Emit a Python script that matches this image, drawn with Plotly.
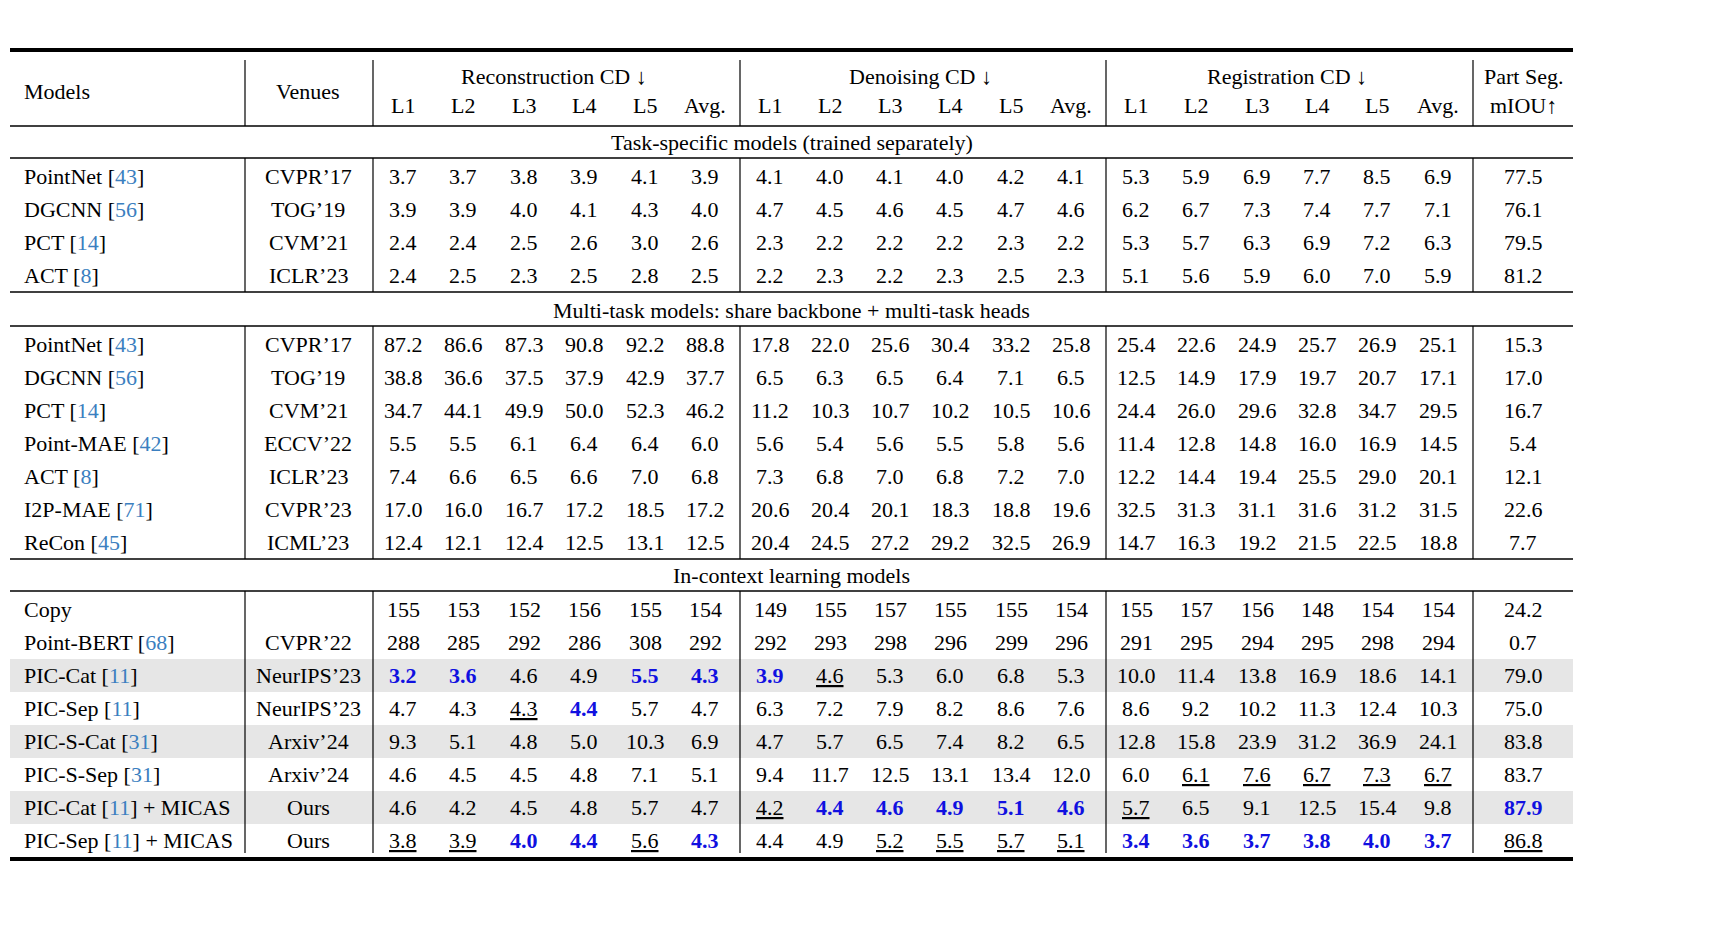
import plotly.graph_objects as go

# ---------------- data ----------------
groups = ["Reconstruction CD ↓", "Denoising CD ↓", "Registration CD ↓"]
levels = ["L1", "L2", "L3", "L4", "L5", "Avg."]
sections = ["Task-specific models (trained separately)",
            "Multi-task models: share backbone + multi-task heads",
            "In-context learning models"]

task_models = [("PointNet", "43"), ("DGCNN", "56"), ("PCT", "14"), ("ACT", "8")]
task_venues = ["CVPR’17", "TOG’19", "CVM’21", "ICLR’23"]
task_vals = [
    ["3.7","3.7","3.8","3.9","4.1","3.9","4.1","4.0","4.1","4.0","4.2","4.1","5.3","5.9","6.9","7.7","8.5","6.9","77.5"],
    ["3.9","3.9","4.0","4.1","4.3","4.0","4.7","4.5","4.6","4.5","4.7","4.6","6.2","6.7","7.3","7.4","7.7","7.1","76.1"],
    ["2.4","2.4","2.5","2.6","3.0","2.6","2.3","2.2","2.2","2.2","2.3","2.2","5.3","5.7","6.3","6.9","7.2","6.3","79.5"],
    ["2.4","2.5","2.3","2.5","2.8","2.5","2.2","2.3","2.2","2.3","2.5","2.3","5.1","5.6","5.9","6.0","7.0","5.9","81.2"],
]

multi_models = [("PointNet", "43"), ("DGCNN", "56"), ("PCT", "14"), ("Point-MAE", "42"),
                ("ACT", "8"), ("I2P-MAE", "71"), ("ReCon", "45")]
multi_venues = ["CVPR’17", "TOG’19", "CVM’21", "ECCV’22", "ICLR’23", "CVPR’23", "ICML’23"]
multi_vals = [
    ["87.2","86.6","87.3","90.8","92.2","88.8","17.8","22.0","25.6","30.4","33.2","25.8","25.4","22.6","24.9","25.7","26.9","25.1","15.3"],
    ["38.8","36.6","37.5","37.9","42.9","37.7","6.5","6.3","6.5","6.4","7.1","6.5","12.5","14.9","17.9","19.7","20.7","17.1","17.0"],
    ["34.7","44.1","49.9","50.0","52.3","46.2","11.2","10.3","10.7","10.2","10.5","10.6","24.4","26.0","29.6","32.8","34.7","29.5","16.7"],
    ["5.5","5.5","6.1","6.4","6.4","6.0","5.6","5.4","5.6","5.5","5.8","5.6","11.4","12.8","14.8","16.0","16.9","14.5","5.4"],
    ["7.4","6.6","6.5","6.6","7.0","6.8","7.3","6.8","7.0","6.8","7.2","7.0","12.2","14.4","19.4","25.5","29.0","20.1","12.1"],
    ["17.0","16.0","16.7","17.2","18.5","17.2","20.6","20.4","20.1","18.3","18.8","19.6","32.5","31.3","31.1","31.6","31.2","31.5","22.6"],
    ["12.4","12.1","12.4","12.5","13.1","12.5","20.4","24.5","27.2","29.2","32.5","26.9","14.7","16.3","19.2","21.5","22.5","18.8","7.7"],
]

icl_models = [("Copy", None), ("Point-BERT", "68"), ("PIC-Cat", "11"), ("PIC-Sep", "11"),
              ("PIC-S-Cat", "31"), ("PIC-S-Sep", "31"), ("PIC-Cat", "11", " + MICAS"),
              ("PIC-Sep", "11", " + MICAS")]
icl_venues = ["", "CVPR’22", "NeurIPS’23", "NeurIPS’23", "Arxiv’24", "Arxiv’24", "Ours", "Ours"]
icl_vals = [
    ["155","153","152","156","155","154","149","155","157","155","155","154","155","157","156","148","154","154","24.2"],
    ["288","285","292","286","308","292","292","293","298","296","299","296","291","295","294","295","298","294","0.7"],
    ["3.2","3.6","4.6","4.9","5.5","4.3","3.9","4.6","5.3","6.0","6.8","5.3","10.0","11.4","13.8","16.9","18.6","14.1","79.0"],
    ["4.7","4.3","4.3","4.4","5.7","4.7","6.3","7.2","7.9","8.2","8.6","7.6","8.6","9.2","10.2","11.3","12.4","10.3","75.0"],
    ["9.3","5.1","4.8","5.0","10.3","6.9","4.7","5.7","6.5","7.4","8.2","6.5","12.8","15.8","23.9","31.2","36.9","24.1","83.8"],
    ["4.6","4.5","4.5","4.8","7.1","5.1","9.4","11.7","12.5","13.1","13.4","12.0","6.0","6.1","7.6","6.7","7.3","6.7","83.7"],
    ["4.6","4.2","4.5","4.8","5.7","4.7","4.2","4.4","4.6","4.9","5.1","4.6","5.7","6.5","9.1","12.5","15.4","9.8","87.9"],
    ["3.8","3.9","4.0","4.4","5.6","4.3","4.4","4.9","5.2","5.5","5.7","5.1","3.4","3.6","3.7","3.8","4.0","3.7","86.8"],
]
# (icl row, column) of best (bold blue) and second best (underlined)
best = [(2,0),(2,1),(2,4),(2,5),(2,6),(3,3),(6,7),(6,8),(6,9),(6,10),(6,11),(6,18),
        (7,2),(7,3),(7,5),(7,12),(7,13),(7,14),(7,15),(7,16),(7,17)]
second = [(2,7),(3,2),(5,13),(5,14),(5,15),(5,16),(5,17),(6,6),(6,12),
          (7,0),(7,1),(7,4),(7,8),(7,9),(7,10),(7,11),(7,18)]
shaded_icl_rows = [2, 4, 6]

# ---------------- layout ----------------
FONT = "Liberation Serif, Times New Roman, serif"
FS = 22
CITE = "#3b7fc0"
col_x = [395, 455, 516, 576, 637, 697, 762, 822, 882, 942, 1003, 1063,
         1128, 1188, 1249, 1309, 1369, 1430, 1515]
vlines = [237, 365, 732, 1098, 1465]
X0, X1 = 2, 1565
ROWH = 33

fig = go.Figure()
ann = []
shapes = []

def txt(x, y, s, anchor="center", color="black"):
    ann.append(dict(x=x, y=y, text=s, showarrow=False, xanchor=anchor, yanchor="middle",
                    font=dict(family=FONT, size=FS, color=color)))

def hline(y, w):
    shapes.append(dict(type="line", x0=X0, x1=X1, y0=y, y1=y, line=dict(color="black", width=w)))

def vl(y0, y1):
    for vx in vlines:
        shapes.append(dict(type="line", x0=vx, x1=vx, y0=y0, y1=y1, line=dict(color="black", width=1.2)))

def model_label(m):
    s = m[0]
    if m[1] is not None:
        s += f" [<span style='color:{CITE}'>{m[1]}</span>]"
    if len(m) > 2:
        s += m[2]
    return s

# header
hline(42, 4)
txt(14, 83, "Models", "left")
txt(300, 83, "Venues")
for gi, g in enumerate(groups):
    c = col_x[gi*6:(gi+1)*6]
    txt((c[0]+c[-1])/2, 68, g)
    for li, l in enumerate(levels):
        txt(c[li], 97, l)
txt(col_x[18], 68, "Part Seg.")
txt(col_x[18], 97, "mIOU↑")
vl(52, 118)
hline(118, 1.5)

blocks = [(task_models, task_venues, task_vals, 134),
          (multi_models, multi_venues, multi_vals, 302),
          (icl_models, icl_venues, icl_vals, 567)]
for bi, (models, venues, vals, ysec) in enumerate(blocks):
    txt((X0+X1)/2, ysec, sections[bi])
    top = ysec + 16
    hline(top, 1.5)
    bottom = top + ROWH*len(models) + 2
    for ri, (m, v, row) in enumerate(zip(models, venues, vals)):
        y = top + ROWH*(ri+0.5) + 2
        if bi == 2 and ri in shaded_icl_rows:
            shapes.append(dict(type="rect", x0=X0, x1=X1, y0=y-ROWH/2, y1=y+ROWH/2,
                               fillcolor="#e6e6e6", line=dict(width=0), layer="below"))
        txt(14, y, model_label(m), "left")
        txt(300, y, v)
        for ci, s in enumerate(row):
            if bi == 2 and (ri, ci) in best:
                txt(col_x[ci], y, f"<b>{s}</b>", color="#1010e0")
            elif bi == 2 and (ri, ci) in second:
                txt(col_x[ci], y, f"<u>{s}</u>")
            else:
                txt(col_x[ci], y, s)
    vl(top, bottom - (0 if bi < 2 else 4))
    if bi < 2:
        hline(bottom, 1.5)
    else:
        hline(bottom + 2, 4)

fig.update_layout(
    width=1717, height=938, margin=dict(l=0, r=0, t=0, b=0),
    plot_bgcolor="white", paper_bgcolor="white",
    xaxis=dict(range=[0, 1717], visible=False, fixedrange=True),
    yaxis=dict(range=[938, 0], visible=False, fixedrange=True),
    annotations=ann, shapes=shapes, showlegend=False,
)
fig.write_html("out.html")
